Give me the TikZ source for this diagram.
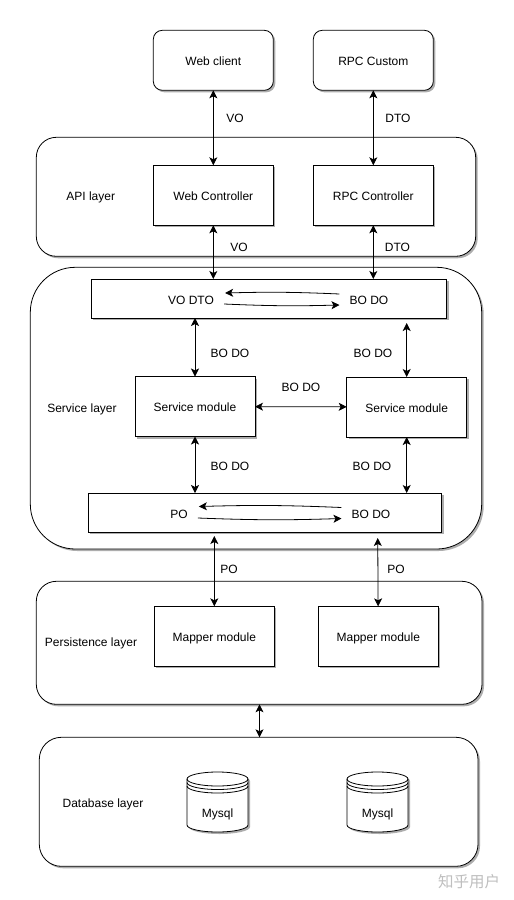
\documentclass[tikz,border=0pt]{standalone}
\usepackage{fontspec}
\setmainfont{Liberation Sans}
\newfontfamily\cjkfont{Noto Sans CJK SC}
\usetikzlibrary{positioning,arrows.meta,shadows}

\begin{document}
\begin{tikzpicture}[
x=1pt, y=-1pt,
font=\fontsize{12}{14}\selectfont,
shade/.style={drop shadow={shadow xshift=2pt, shadow yshift=-2pt, fill=black!40, opacity=0.8}},
layer/.style={draw, fill=white, line width=0.8pt, outer sep=0pt, shade, anchor=north west},
module/.style={draw, fill=white, line width=0.8pt, outer sep=0pt, shade, minimum width=120pt, minimum height=60pt, inner sep=0pt, text height=10pt, text depth=0pt},
client/.style={module, rounded corners=9pt},
bar/.style={draw, fill=white, line width=0.8pt, outer sep=0pt, shade, minimum height=39pt, inner sep=0pt},
store/.style={outer sep=0pt, inner sep=0pt, minimum width=61pt, minimum height=60pt},
dbline/.style={draw, fill=white, line width=0.8pt},
lbl/.style={inner sep=0pt, text height=10pt, text depth=0pt},
arrow/.style={-{Stealth[length=8pt,width=8pt,inset=2pt]}, line width=0.8pt},
both/.style={{Stealth[length=8pt,width=8pt,inset=2pt]}-{Stealth[length=8pt,width=8pt,inset=2pt]}, line width=0.8pt}
]
\useasboundingbox (0,0) rectangle (514,900);
\fill[white] (0,0) rectangle (514,900);

% layers
\node[layer, rounded corners=20pt, minimum width=439.4pt, minimum height=119pt] (api) at (36.3,137.3) {};
\node[layer, rounded corners=45pt, minimum width=451.4pt, minimum height=281.7pt] (service) at (30.3,267.3) {};
\node[layer, rounded corners=20pt, minimum width=445.7pt, minimum height=123pt] (persist) at (36.3,581.3) {};
\node[layer, rounded corners=22pt, minimum width=438.7pt, minimum height=129pt] (database) at (39.3,737.3) {};

% clients and controllers
\node[client] (webclient) at (213.3,60.3) {Web client};
\node[client, right=40pt of webclient] (rpcclient) {RPC Custom};
\node[module] (webctrl) at (213.3,195.3) {Web Controller};
\node[module, right=40pt of webctrl] (rpcctrl) {RPC Controller};

% service layer
\node[bar, minimum width=355.3pt] (topbar) at (269,298.5) {};
\node[module] (svc1) at (195,406.5) {Service module};
\node[module] (svc2) at (406.7,407) {Service module};
\node[bar, minimum width=353.3pt] (lowbar) at (265,512.5) {};

% persistence and database
\node[module] (map1) at (214.3,636.3) {Mapper module};
\node[module, right=44pt of map1] (map2) {Mapper module};
\node[store] (db1) at (217.5,802) {};
\node[store] (db2) at (377.5,802) {};
\foreach \db in {db1,db2} {
  \draw[dbline, shade] ([yshift=-7pt]\db.north west) arc[start angle=180, end angle=0, x radius=30.5pt, y radius=7pt]
    -- ([yshift=7pt]\db.south east) arc[start angle=0, end angle=-180, x radius=30.5pt, y radius=7pt] -- cycle;
  \foreach \off in {7,10.5,14}
    \draw[line width=0.8pt] ([yshift=-\off pt]\db.north west) arc[start angle=180, end angle=360, x radius=30.5pt, y radius=7pt];
}

% texts
\node[lbl] (mysql1) at ([yshift=-10pt]db1.center) {Mysql};
\node[lbl] (mysql2) at ([yshift=-10pt]db2.center) {Mysql};
\node[lbl] (apitxt) at (90.7,195.5) {API layer};
\node[lbl] (svctxt) at (82,407) {Service layer};
\node[lbl] (pertxt) at (91,641.5) {Persistence layer};
\node[lbl] (dbtxt) at (103,802) {Database layer};
\node[lbl] (vodto) at (191,299) {VO DTO};
\node[lbl] (bodo1) at (369,299) {BO DO};
\node[lbl] (po1) at (179,513) {PO};
\node[lbl] (bodo2) at (371,513) {BO DO};
\node[lbl] at (235,117.5) {VO};
\node[lbl] at (398,117.5) {DTO};
\node[lbl] at (239,246.5) {VO};
\node[lbl] at (397.5,246.5) {DTO};
\node[lbl] at (230,352) {BO DO};
\node[lbl] at (373,352) {BO DO};
\node[lbl] at (301,386) {BO DO};
\node[lbl] at (230,465.5) {BO DO};
\node[lbl] at (372,465.5) {BO DO};
\node[lbl] at (229,568) {PO};
\node[lbl] at (396,568) {PO};
\node[lbl, text=black!25, font=\cjkfont\fontsize{15.5}{15.5}\selectfont] at (469,882.5) {知乎用户};

% connectors
\draw[both] (webclient) -- (webctrl);
\draw[both] (rpcclient) -- (rpcctrl);
\draw[both] (webctrl) -- (webctrl.south |- topbar.north);
\draw[both] (rpcctrl) -- (rpcctrl.south |- topbar.north);
\draw[both] (svc1.north |- topbar.south) -- (svc1);
\draw[both, shorten <=5pt] (svc2.north |- topbar.south) -- (svc2);
\draw[both] (svc1) -- (svc2);
\draw[both] (svc1) -- (svc1.south |- lowbar.north);
\draw[both] (svc2) -- (svc2.south |- lowbar.north);
\draw[both, shorten <=4pt] (map1.north |- lowbar.south) -- (map1);
\draw[both, shorten <=6pt] ([xshift=-0.6pt]map2.north |- lowbar.south) -- (map2);
\draw[both] (persist.south -| 259.5,0) -- (database.north -| 259.5,0);
\draw[arrow] ([xshift=-10pt,yshift=5pt]bodo1.west) to[bend right=2] ([xshift=11pt,yshift=6pt]vodto.east);
\draw[arrow] ([xshift=10pt,yshift=-5pt]vodto.east) to[bend right=2] ([xshift=-10pt,yshift=-6pt]bodo1.west);
\draw[arrow] ([xshift=-10pt,yshift=5.5pt]bodo2.west) to[bend right=2] ([xshift=11pt,yshift=6.5pt]po1.east);
\draw[arrow] ([xshift=10pt,yshift=-5pt]po1.east) to[bend right=2] ([xshift=-10pt,yshift=-5.5pt]bodo2.west);
\end{tikzpicture}
\end{document}
